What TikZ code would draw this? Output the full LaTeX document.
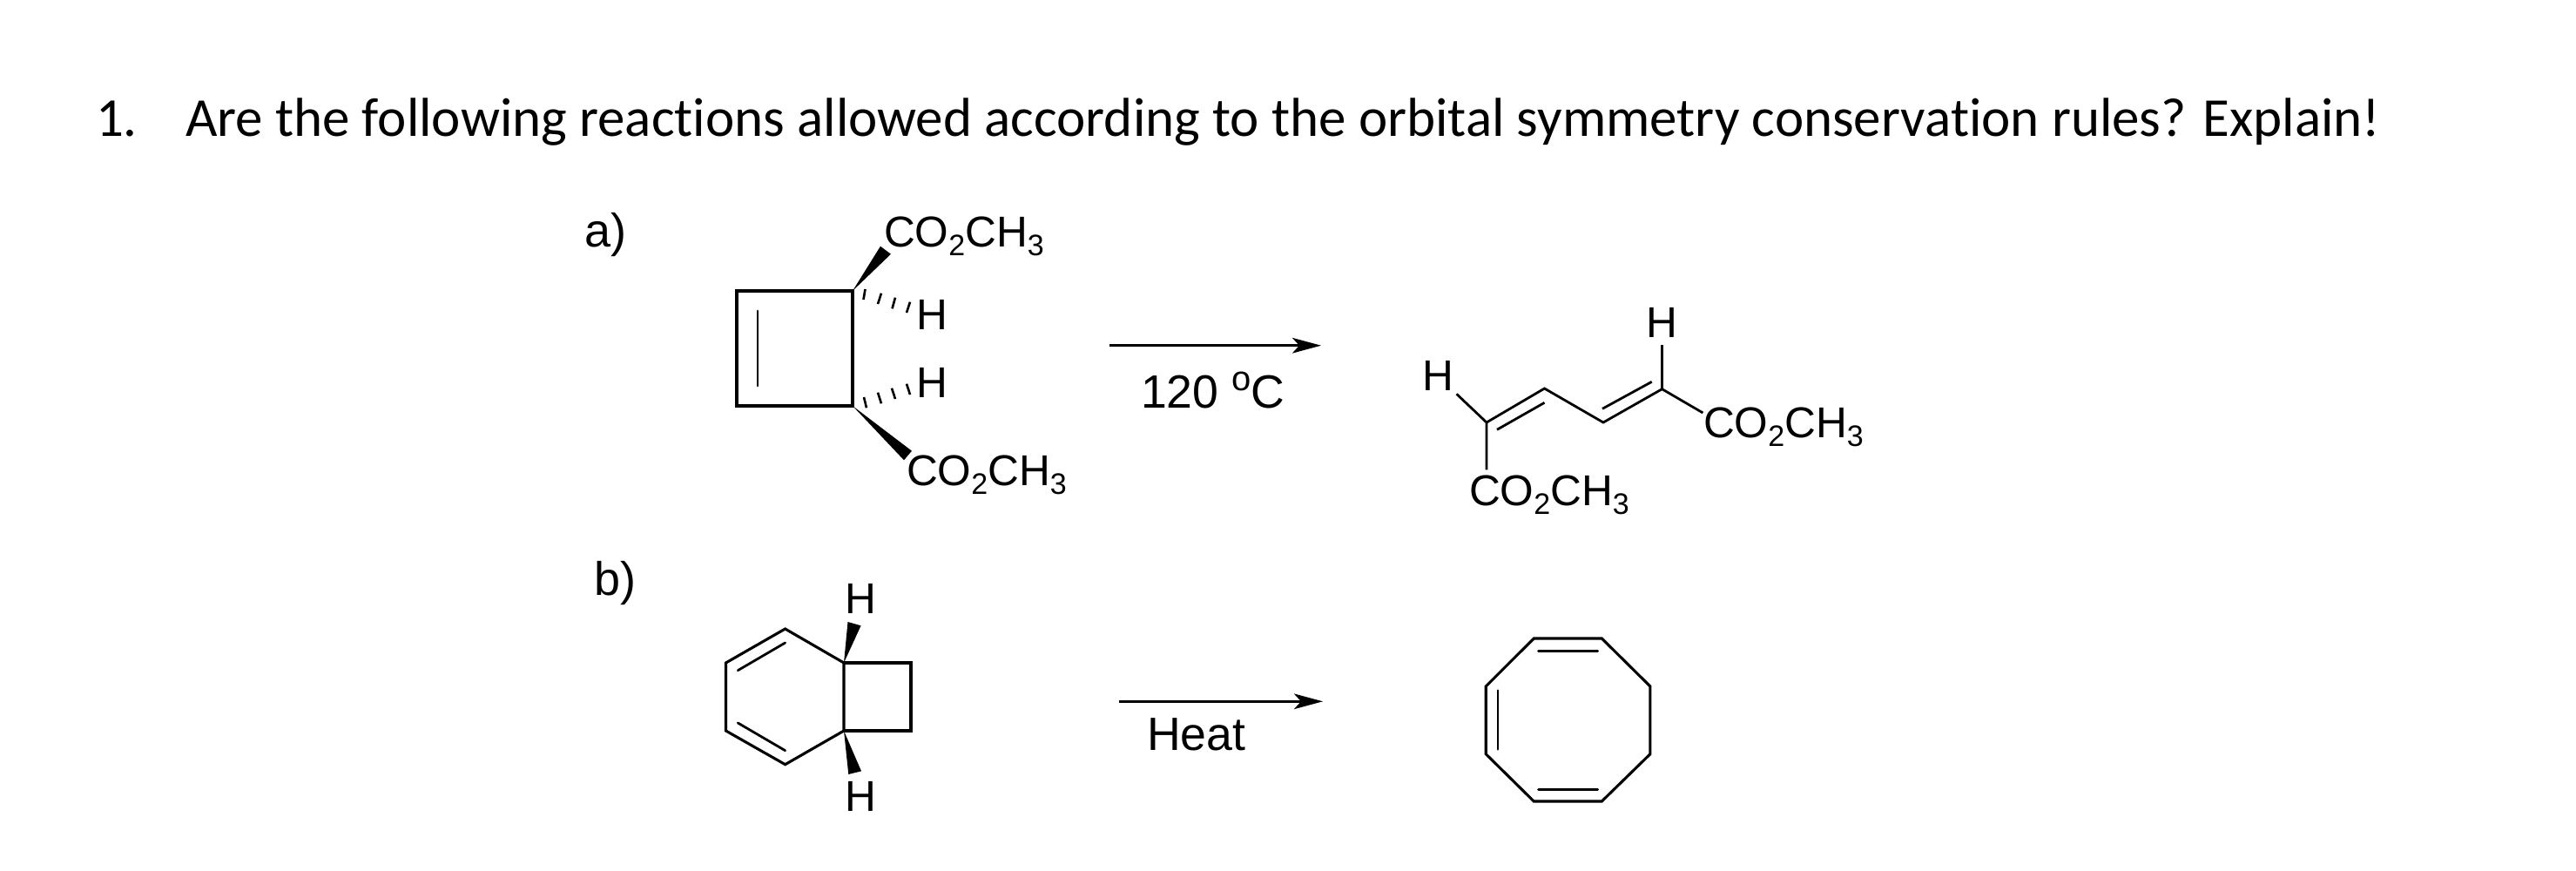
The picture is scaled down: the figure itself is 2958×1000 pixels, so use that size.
\documentclass[tikz,border=0pt]{standalone}
\usepackage{fontspec}
\setmainfont{Liberation Sans}
\newfontfamily\titlefont[Ligatures=NoCommon]{Carlito}
\usetikzlibrary{arrows.meta}
\newcommand{\cosub}{CO\raisebox{-5pt}{\fontsize{17}{17}\selectfont 2}CH\raisebox{-5pt}{\fontsize{17}{17}\selectfont 3}}
\tikzset{
  x=0.5pt,y=-0.5pt,
  atomlabel/.style={anchor=base west,inner sep=0pt,outer sep=0pt,font=\fontsize{24.8}{24.8}\selectfont},
  steplabel/.style={anchor=base west,inner sep=0pt,outer sep=0pt,font=\fontsize{26.8}{26.8}\selectfont},
  partlabel/.style={anchor=base west,inner sep=0pt,outer sep=0pt,font=\fontsize{27}{27}\selectfont},
  titlelabel/.style={anchor=base west,inner sep=0pt,outer sep=0pt,font=\titlefont\fontsize{31.5}{31.5}\selectfont},
  bond/.style={draw=black,line width=1.55pt,line join=miter,line cap=butt},
  thinbond/.style={draw=black,line width=1.4pt,line join=miter,line cap=butt},
  innerbond/.style={draw=black,line width=1.4pt,line cap=round},
  hash/.style={draw=black,line width=1.3pt},
  wedge/.style={fill=black,draw=none},
  rxn/.style={draw=black,line width=1.5pt,-{Stealth[length=16.5pt,width=8.8pt,inset=4pt]}},
}
\begin{document}
\begin{tikzpicture}
\useasboundingbox[fill=white] (0,0) rectangle (2958,1000);
% title
\node[titlelabel] (num) at (110,157) {1.};
\node[titlelabel] (question) at (213,157) {Are the following reactions allowed according to the orbital symmetry conservation rules? Explain!};
% part labels
\node[partlabel] (parta) at (671,283) {a)};
\node[partlabel] (partb) at (682,683) {b)};
% --- molecule a
\coordinate (a1) at (846,334); \coordinate (a2) at (979,334);
\coordinate (a3) at (979,466); \coordinate (a4) at (846,466);
\draw[bond] (a1) -- (a2) -- (a3) -- (a4) -- cycle;
\coordinate (ai1) at (870,357); \coordinate (ai2) at (870,443);
\draw[innerbond] (ai1) -- (ai2);
\coordinate (aw1) at (1011,282.7); \coordinate (aw2) at (1023,291.7);
\fill[wedge] (a2) -- (aw1) -- (aw2) -- cycle;
\coordinate (aw3) at (1047,517.7); \coordinate (aw4) at (1038,528.3);
\fill[wedge] (a3) -- (aw3) -- (aw4) -- cycle;
\draw[hash] (993.5,332) -- (991.5,344) (1012,336.7) -- (1008,349)
  (1028,341.7) -- (1024.5,354.3) (1045,346.7) -- (1041,359);
\draw[hash] (992,456) -- (995,468.3) (1008,450.7) -- (1012,463.3)
  (1024,445.7) -- (1028,458) (1041,440.7) -- (1045,453);
\node[atomlabel] (acotop) at (1015,283.3) {\cosub};
\node[atomlabel] (acobot) at (1041,557) {\cosub};
\node[atomlabel] (ah1) at (1052,378.3) {H};
\node[atomlabel] (ah2) at (1052,456) {H};
% arrow a
\coordinate (r1s) at (1274,396.7); \coordinate (r1e) at (1517,396.7);
\draw[rxn] (r1s) -- (r1e);
\node[steplabel] (temp) at (1310,468) {120 \raisebox{10pt}{\fontsize{20}{20}\selectfont o}C};
% --- product a
\coordinate (p1) at (1707,485); \coordinate (p2) at (1773.5,446);
\coordinate (p3) at (1841,485); \coordinate (p4) at (1908.5,446.7);
\coordinate (pi1) at (1719,493.3); \coordinate (pi2) at (1773.5,462.3);
\coordinate (pi3) at (1840,469.3); \coordinate (pi4) at (1896.7,438.3);
\coordinate (pe1) at (1672.5,452.3); \coordinate (pe2) at (1707,539.3);
\coordinate (pe3) at (1908.5,396); \coordinate (pe4) at (1955.4,474);
\draw[thinbond] (p1) -- (p2) -- (p3) -- (p4);
\draw[thinbond] (pe1) -- (p1) -- (pe2);
\draw[thinbond] (pe3) -- (p4) -- (pe4);
\draw[innerbond,line cap=butt] (pi1) -- (pi2);
\draw[innerbond,line cap=butt] (pi3) -- (pi4);
\node[atomlabel] (ph1) at (1633,448.3) {H};
\node[atomlabel] (ph2) at (1890,387.3) {H};
\node[atomlabel] (pco1) at (1956,502.7) {\cosub};
\node[atomlabel] (pco2) at (1687,580.7) {\cosub};
% --- molecule b
\coordinate (b1) at (901.6,722); \coordinate (b2) at (833.5,761);
\coordinate (b3) at (833.5,839); \coordinate (b4) at (901.6,877.7);
\coordinate (b5) at (969,839); \coordinate (b6) at (969,761);
\coordinate (b7) at (1046,761); \coordinate (b8) at (1046,839);
\draw[bond] (b1) -- (b2) -- (b3) -- (b4) -- (b5) -- (b6) -- cycle;
\draw[bond] (b6) -- (b7) -- (b8) -- (b5);
\coordinate (bi1) at (847.3,769.7); \coordinate (bi2) at (901.6,738);
\coordinate (bi3) at (847.3,830); \coordinate (bi4) at (901.6,861.7);
\draw[innerbond] (bi1) -- (bi2);
\draw[innerbond] (bi3) -- (bi4);
\coordinate (bw1) at (973.5,714); \coordinate (bw2) at (988.6,718.3);
\fill[wedge] (b6) -- (bw1) -- (bw2) -- cycle;
\coordinate (bw3) at (974.3,889); \coordinate (bw4) at (989,885.3);
\fill[wedge] (b5) -- (bw3) -- (bw4) -- cycle;
\node[atomlabel] (bh1) at (970,704.3) {H};
\node[atomlabel] (bh2) at (970,931) {H};
% arrow b
\coordinate (r2s) at (1284.7,805.3); \coordinate (r2e) at (1519,805.3);
\draw[rxn] (r2s) -- (r2e);
\node[steplabel] (heat) at (1317,861) {Heat};
% --- cyclooctatetraene
\coordinate (c1) at (1761.3,733); \coordinate (c2) at (1839.3,733);
\coordinate (c3) at (1894.9,788); \coordinate (c4) at (1894.9,865.7);
\coordinate (c5) at (1839.3,920); \coordinate (c6) at (1761.3,920);
\coordinate (c7) at (1706.2,865.7); \coordinate (c8) at (1706.2,788);
\draw[bond] (c1) -- (c2) -- (c3) -- (c4) -- (c5) -- (c6) -- (c7) -- (c8) -- cycle;
\coordinate (ci1) at (1766.5,747.3); \coordinate (ci2) at (1834.6,747.3);
\coordinate (ci3) at (1766.5,906.3); \coordinate (ci4) at (1834.6,906.3);
\coordinate (ci5) at (1720,792.7); \coordinate (ci6) at (1720,860.3);
\draw[innerbond] (ci1) -- (ci2);
\draw[innerbond] (ci3) -- (ci4);
\draw[innerbond] (ci5) -- (ci6);
\end{tikzpicture}
\end{document}
